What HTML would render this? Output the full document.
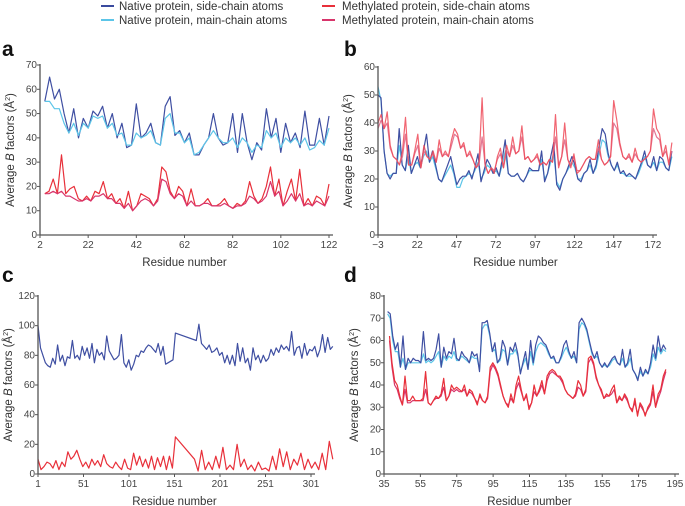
<!DOCTYPE html>
<html><head><meta charset="utf-8">
<style>
html,body{margin:0;padding:0;background:#fff;}
svg{display:block;font-family:"Liberation Sans",Arial,sans-serif;}
.tick{font-size:10px;fill:#444;}
.ttl{font-size:11.5px;fill:#333;}
.plab{font-size:21px;font-weight:bold;fill:#111;}
.leg{font-size:11.5px;fill:#333;}
</style></head>
<body>
<svg id="fig" width="685" height="506" viewBox="0 0 685 506" xmlns="http://www.w3.org/2000/svg">
  <g>
    <g><line x1="101" y1="6" x2="114" y2="6" stroke="#3a4a9e" stroke-width="2"/><text class="leg" x="119" y="10">Native protein, side-chain atoms</text></g>
    <g><line x1="101" y1="20" x2="114" y2="20" stroke="#5cc5e8" stroke-width="2"/><text class="leg" x="119" y="24">Native protein, main-chain atoms</text></g>
    <g><line x1="322" y1="6" x2="335" y2="6" stroke="#e8303a" stroke-width="2"/><text class="leg" x="342" y="10">Methylated protein, side-chain atoms</text></g>
    <g><line x1="322" y1="20" x2="335" y2="20" stroke="#d8356b" stroke-width="2"/><text class="leg" x="342" y="24">Methylated protein, main-chain atoms</text></g>
  </g>
</svg>
<script>
// ---- Panel a data ----
const aXTicks = [2,22,42,62,82,102,122];
const aYTicks = [0,10,20,30,40,50,60,70];
const aNativeSide = [55,65,56,60,50,42,52,40,48,44,51,49,53,44,50,40,46,36,37,54,40,42,46,38,37,53,57,41,43,38,42,33,33,37,40,50,40,37,38,50,34,50,38,31,38,35,52,40,48,34,46,38,42,36,51,37,37,48,37,49];
const aNativeMain = [55,55,52,52,46,42,46,41,46,44,49,48,49,44,46,41,42,37,37,42,40,41,43,38,37,48,50,42,42,38,40,33,34,37,40,43,40,38,38,40,36,40,38,34,37,36,43,40,42,36,40,38,40,37,40,35,36,39,37,44];
const aMethSide = [17,18,23,17,33,17,19,20,15,14,16,14,18,17,22,15,17,13,15,11,18,10,12,17,16,15,12,15,28,26,18,15,20,18,12,19,12,12,13,15,12,12,13,15,12,11,13,12,14,22,16,13,15,20,28,16,23,12,18,23,14,27,12,15,12,16,15,12,21];
const aMethMain = [17,17,18,17,18,16,16,15,14,14,15,14,16,16,17,15,15,13,13,11,13,10,12,14,15,14,12,14,23,22,17,15,17,16,12,14,12,12,13,13,12,12,12,13,12,11,12,12,13,16,15,13,14,16,22,16,18,12,14,17,14,17,12,13,12,14,13,12,16];
// ---- Panel b data ----
const bXTicks = [-3,22,47,72,97,122,147,172];
const bYTicks = [0,10,20,30,40,50,60];
const bNativeSide = [50,49,30,22,20,22,22,38,25,23,32,22,25,28,24,30,36,26,30,25,20,19,22,25,28,23,18,20,21,21,23,20,24,29,19,23,27,25,22,24,21,27,34,22,21,21,22,20,19,21,24,23,23,23,30,19,22,28,33,18,16,20,22,25,28,25,20,19,22,23,27,22,25,32,38,36,29,25,23,26,22,23,21,22,21,20,23,26,30,25,24,28,23,28,27,24,23,30];
const bNativeMain = [53,48,30,22,21,22,22,32,25,23,28,22,25,26,24,28,30,26,28,24,20,19,21,23,25,22,17,17,20,21,22,21,23,26,20,22,25,24,22,23,21,25,30,22,21,21,22,20,19,21,23,23,23,23,27,20,22,26,29,19,17,20,22,24,26,24,20,20,22,23,25,22,24,29,34,33,28,25,23,25,22,22,21,21,21,20,22,25,28,25,24,26,23,26,26,24,23,28];
const bMethSide = [40,43,38,44,32,28,27,25,30,42,25,25,30,36,24,32,28,27,30,26,34,28,30,28,34,38,36,31,33,28,30,27,24,26,49,25,22,24,22,28,31,24,32,28,35,29,30,39,27,28,26,27,29,25,26,25,27,26,43,24,28,40,27,24,29,22,23,25,27,28,27,27,34,27,25,26,28,48,41,33,28,27,29,26,31,27,26,27,28,30,45,38,36,28,32,25,33];
const bMethMain = [38,41,38,40,31,28,27,25,28,36,25,25,29,32,24,30,28,27,29,26,31,28,29,28,32,36,35,31,32,28,29,27,24,25,35,25,22,24,23,27,29,24,30,28,32,29,30,35,27,28,26,27,28,25,26,25,27,26,35,25,28,34,27,25,28,23,23,25,27,28,27,27,31,27,25,26,28,40,38,32,28,27,28,26,29,27,26,27,28,30,38,35,34,28,30,26,30];
// ---- Panel c data ----
const cXTicks = [1,51,101,151,201,251,301];
const cYTicks = [0,20,40,60,80,100,120];
const cNativeSeg1 = [100,85,80,75,73,72,78,74,87,76,80,73,79,78,90,78,80,77,86,80,85,78,88,75,84,80,82,77,93,83,80,77,78,80,94,75,72,77,70,74,80,79,83,82,85,87,86,84,82,88,80,86,74,75,76,77,95];
const cNativeSeg2 = [90,101,88,86,84,87,82,83,85,80,82,75,80,74,80,73,88,76,85,75,78,70,85,77,80,75,80,76,78,84,80,85,82,87,84,86,83,96,80,85,86,78,88,80,84,83,86,79,84,94,82,92,84,86];
const cMethSeg1 = [10,3,5,8,7,4,9,3,8,5,15,10,12,16,10,5,8,4,10,6,9,5,13,7,5,4,8,5,3,10,4,3,14,6,12,5,10,4,12,3,11,5,12,3,12,4,25];
const cMethSeg2 = [10,2,16,3,8,3,12,4,18,3,6,3,20,5,10,3,6,2,8,3,4,2,12,3,17,5,15,3,10,6,14,3,10,4,8,3,14,3,22,10];
// ---- Panel d data ----
const dXTicks = [35,55,75,95,115,135,155,175,195];
const dYTicks = [0,10,20,30,40,50,60,70,80];
const dNativeSide = [73,72,62,56,59,48,62,47,52,50,52,51,51,50,64,51,52,51,52,56,63,48,57,52,55,54,61,52,51,55,53,52,50,55,53,54,46,68,68,69,63,55,59,50,52,60,57,49,57,55,59,54,45,50,55,47,60,50,58,62,61,59,58,55,52,53,50,50,53,58,60,55,52,55,50,68,70,68,65,60,55,52,55,50,48,50,48,50,52,53,50,49,56,48,50,56,47,45,42,48,44,47,45,50,58,52,62,55,58,56];
const dNativeMain = [72,70,60,55,55,48,52,47,50,50,50,50,50,50,54,50,51,50,51,53,55,48,53,51,53,52,55,51,51,53,52,51,50,53,52,52,47,65,67,67,62,55,56,50,51,56,55,49,54,54,56,53,46,49,52,47,55,49,55,58,59,58,57,54,52,52,50,50,52,55,57,54,52,53,50,65,68,67,64,59,54,52,53,50,48,49,48,49,51,52,50,49,52,48,49,52,47,45,43,46,44,46,45,48,54,51,57,54,56,55];
const dMethSide = [62,50,42,40,35,31,44,33,33,35,33,33,33,34,46,32,31,33,35,34,36,43,33,35,40,38,39,38,37,40,35,38,37,34,31,36,33,32,35,48,50,48,45,40,35,32,30,36,32,40,44,38,33,36,29,32,40,35,38,42,36,44,46,47,46,44,44,42,38,36,35,34,36,42,40,35,38,52,53,50,44,40,38,34,36,35,38,40,32,35,33,36,34,30,28,34,26,32,30,26,30,32,40,30,36,38,44,47];
const dMethMain = [60,48,40,38,34,31,38,32,32,33,33,33,33,33,38,32,31,33,34,34,35,39,33,35,38,37,38,37,37,38,35,37,36,34,32,35,33,32,34,46,49,47,44,39,35,32,31,34,32,38,41,37,33,35,30,32,37,35,37,40,36,42,45,46,45,44,43,41,38,36,35,34,35,39,38,35,37,50,52,49,43,40,37,34,35,35,36,38,32,34,33,35,33,30,29,32,27,31,29,27,29,31,37,30,34,37,42,46];

const COL = {ns:'#3f4fa2', nm:'#5cc5e8', ms:'#e8303a', mm:'#d8356b'};
const svg = document.getElementById('fig');
const NS = 'http://www.w3.org/2000/svg';
function el(tag, attrs, parent){const e=document.createElementNS(NS,tag);for(const k in attrs)e.setAttribute(k,attrs[k]);(parent||svg).appendChild(e);return e;}

function panel(p){
  const g = el('g',{});
  
  
  const sx = v => p.x0 + (v - p.xmin)/(p.xmax - p.xmin)*(p.x1 - p.x0);
  const sy = v => p.y0 - (v - p.ymin)/(p.ymax - p.ymin)*(p.y0 - p.y1);
  const lab = el('text',{x:p.lx,y:p.ly,class:'plab'},g); lab.textContent=p.id;
  
  
  p.series.forEach(s=>{
    let pts=[];
    s.segs.forEach(sg=>{
      const n=sg.vals.length;
      sg.vals.forEach((v,i)=>{const xv=sg.from+(sg.to-sg.from)*i/(n-1);pts.push(sx(xv).toFixed(1)+','+sy(v).toFixed(1));});
    });
    const pl=el('polyline',{points:pts.join(' '),fill:'none',stroke:s.c,'stroke-width':1.2,'stroke-linejoin':'round',opacity:s.o||1},g);
    
    
  });
  const ax=el('g',{},g);
  
  
  el('line',{x1:p.x0,y1:p.y0,x2:p.x0,y2:sy(p.ymax)-1,stroke:'#555','stroke-width':1.3},ax);
  el('line',{x1:p.x0,y1:p.y0,x2:p.x1+4,y2:p.y0,stroke:'#555','stroke-width':1.3},ax);
  p.yt.forEach(t=>{
    el('line',{x1:p.x0-3,y1:sy(t),x2:p.x0,y2:sy(t),stroke:'#555'},ax);
    const tx=el('text',{x:p.x0-3,y:sy(t)+3,class:'tick','text-anchor':'end'},ax);tx.textContent=t;
    
    
  });
  p.xt.forEach(t=>{
    el('line',{x1:sx(t),y1:p.y0,x2:sx(t),y2:p.y0+3,stroke:'#555'},ax);
    const tx=el('text',{x:sx(t),y:p.y0+13,class:'tick','text-anchor':'middle'},ax);tx.textContent=(t<0?'\u2212'+(-t):t);
    
    
  });
  const xt=el('text',{x:(p.x0+p.x1)/2,y:p.y0+31,class:'ttl','text-anchor':'middle'},ax);xt.textContent='Residue number';
  
  
  const yc=(p.y0+sy(p.ymax))/2;
  const yt=el('text',{x:0,y:0,class:'ttl','text-anchor':'middle',transform:`translate(${p.x0-26},${yc}) rotate(-90)`},ax);
  yt.innerHTML='Average <tspan font-style="italic">B</tspan> factors (Å<tspan font-size="7" dy="-4">2</tspan><tspan dy="4">)</tspan>';
  
  
}

panel({id:'a',lx:2,ly:56,x0:40,x1:329,y0:235,y1:65,xmin:2,xmax:122,ymin:0,ymax:70,xt:aXTicks,yt:aYTicks,
  series:[{name:'methylated-side',c:COL.ms,segs:[{from:4,to:122,vals:aMethSide}]},
          {name:'methylated-main',c:COL.mm,segs:[{from:4,to:122,vals:aMethMain}]},
          {name:'native-side',c:COL.ns,segs:[{from:4,to:122,vals:aNativeSide}]},
          {name:'native-main',c:COL.nm,segs:[{from:4,to:122,vals:aNativeMain}]}]});
panel({id:'b',lx:344,ly:56,x0:378,x1:653,y0:235,y1:67,xmin:-3,xmax:172,ymin:0,ymax:60,xt:bXTicks,yt:bYTicks,
  series:[{name:'native-main',c:COL.nm,segs:[{from:-3,to:184,vals:bNativeMain}]},
          {name:'native-side',c:COL.ns,segs:[{from:-3,to:184,vals:bNativeSide}]},
          {name:'methylated-main',c:'#e06a8a',segs:[{from:-3,to:184,vals:bMethMain}],o:0.9},
          {name:'methylated-side',c:'#ee4a58',segs:[{from:-3,to:184,vals:bMethSide}],o:0.85}]});
panel({id:'c',lx:2,ly:282,x0:38,x1:311,y0:474,y1:296,xmin:1,xmax:301,ymin:0,ymax:120,xt:cXTicks,yt:cYTicks,
  series:[{name:'native-side',c:COL.ns,segs:[{from:1,to:152,vals:cNativeSeg1},{from:175,to:325,vals:cNativeSeg2}]},
          {name:'methylated-side',c:COL.ms,segs:[{from:1,to:152,vals:cMethSeg1},{from:173,to:325,vals:cMethSeg2}]}]});
panel({id:'d',lx:344,ly:282,x0:384,x1:675,y0:474,y1:296,xmin:35,xmax:195,ymin:0,ymax:80,xt:dXTicks,yt:dYTicks,
  series:[{name:'native-main',c:COL.nm,segs:[{from:37,to:190,vals:dNativeMain}]},
          {name:'native-side',c:COL.ns,segs:[{from:37,to:190,vals:dNativeSide}]},
          {name:'methylated-main',c:COL.mm,segs:[{from:38,to:190,vals:dMethMain}]},
          {name:'methylated-side',c:COL.ms,segs:[{from:38,to:190,vals:dMethSide}]}]});
</script>
</body></html>
